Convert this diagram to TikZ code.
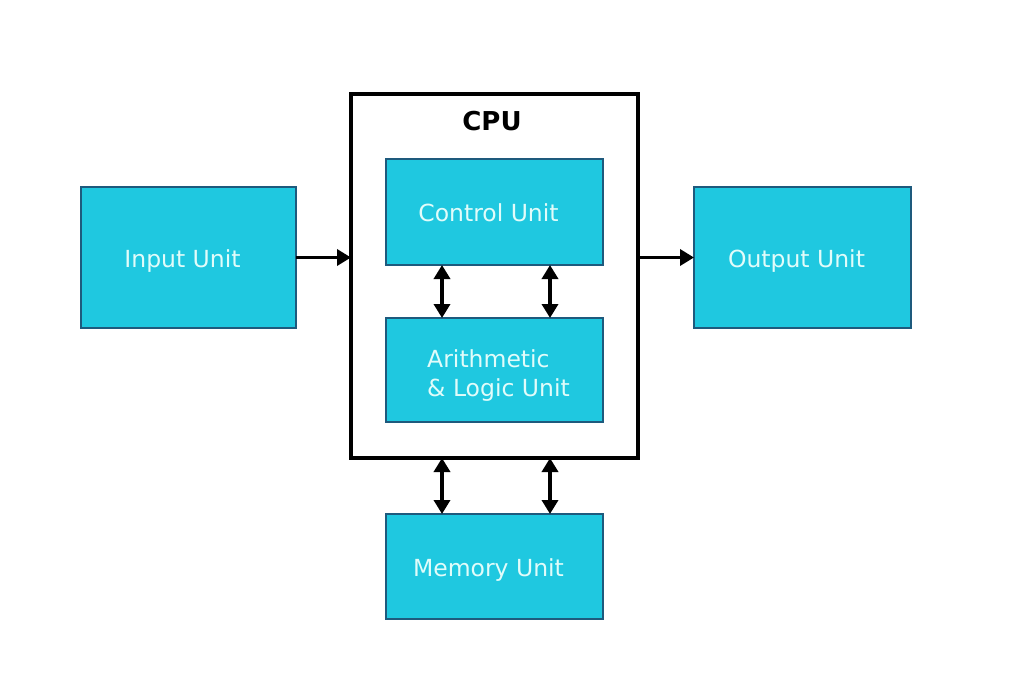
\documentclass[tikz,border=0pt]{standalone}
\usepackage{fontspec}
\setmainfont{DejaVu Sans}
\usetikzlibrary{arrows.meta}
\definecolor{unitfill}{RGB}{31,200,224}
\definecolor{unitedge}{RGB}{30,90,125}
\definecolor{unittext}{RGB}{225,252,250}
\newcommand{\shiftdown}[2]{\raisebox{-#1}[\height][\depth]{#2}}
\tikzset{
  unit/.style={rectangle, draw=unitedge, line width=2.5pt, fill=unitfill, outer sep=0pt,
    text=unittext, font=\fontsize{23.5}{29}\selectfont, inner sep=0pt},
  leftish/.style={execute at end node={\hspace*{12pt}}},
  cpubox/.style={rectangle, draw=black, line width=3.5pt, fill=white, inner sep=0pt, outer sep=0pt},
  flow/.style={line width=3.5pt, -{Triangle[length=14pt,width=16pt]}},
  bothway/.style={line width=3.5pt, {Triangle[length=14pt,width=16pt]}-{Triangle[length=14pt,width=16pt]}}
}
\begin{document}
\begin{tikzpicture}[x=1pt,y=-1pt]
\useasboundingbox[fill=white] (0,0) rectangle (1024,691);
\node[cpubox, minimum width=287pt, minimum height=364pt] (cpu) at (494.5,276) {};
\node[font=\fontsize{26}{30}\selectfont\bfseries] (cpulabel) at (492,121) {CPU};
\node[unit, leftish, minimum width=215pt, minimum height=141pt] (input) at (188.5,257.5) {\shiftdown{4pt}{Input Unit}};
\node[unit, leftish, minimum width=217pt, minimum height=141pt] (output) at (802.5,257.5) {\shiftdown{4pt}{Output Unit}};
\node[unit, leftish, minimum width=217pt, minimum height=106pt] (ctrl) at (494.5,212) {\shiftdown{1pt}{Control Unit}};
\node[unit, minimum width=217pt, minimum height=104pt] (alu) at (494.5,370)
  {\hspace*{8pt}\shiftdown{6pt}{\begin{tabular}{@{}l@{}}Arithmetic\\\& Logic Unit\end{tabular}}};
\node[unit, leftish, minimum width=217pt, minimum height=105pt] (mem) at (494.5,566.5) {\shiftdown{4pt}{Memory Unit}};
\draw[flow] (input.east) -- (input.east -| cpu.west);
\draw[flow] (output.west -| cpu.east) -- (output.west);
\draw[bothway] ([xshift=56pt]ctrl.south west) -- ([xshift=56pt]alu.north west);
\draw[bothway] ([xshift=164pt]ctrl.south west) -- ([xshift=164pt]alu.north west);
\draw[bothway] ([xshift=-52.5pt]cpu.south) -- ([xshift=56pt]mem.north west);
\draw[bothway] ([xshift=55.5pt]cpu.south) -- ([xshift=164pt]mem.north west);
\end{tikzpicture}
\end{document}
